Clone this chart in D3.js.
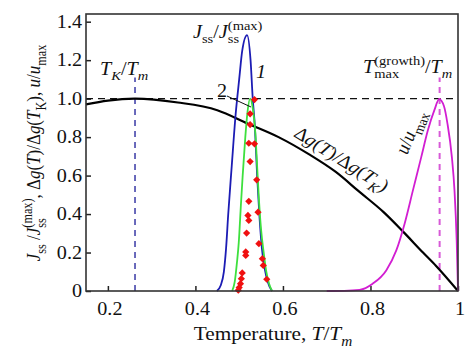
<!DOCTYPE html>
<html>
<head>
<meta charset="utf-8">
<script src="https://cdn.jsdelivr.net/npm/d3@7"></script>
<style>
  body { margin: 0; background: #fff; }
</style>
</head>
<body>
<div id="chart"></div>
<script>
// values (x = T/Tm)
const xTicks = [0.2, 0.4, 0.6, 0.8, 1];
const xTickLabels = ["0.2", "0.4", "0.6", "0.8", "1"];
const yTicks = [0, 0.2, 0.4, 0.6, 0.8, 1.0, 1.2, 1.4];
const yTickLabels = ["0", "0.2", "0.4", "0.6", "0.8", "1.0", "1.2", "1.4"];

// driving force  dg(T)/dg(TK)
const dgX = [0.15, 0.2, 0.262, 0.36, 0.45, 0.52, 0.59, 0.66, 0.72, 0.775, 0.83, 0.874, 0.92, 0.95, 1.0];
const dgY = [0.97, 0.99, 1.0, 0.98, 0.94, 0.87, 0.80, 0.71, 0.62, 0.515, 0.41, 0.31, 0.2, 0.13, 0];

// curve 1: Jss / Jss(max)  (blue)
const jX = [0.449, 0.458, 0.465, 0.470, 0.475, 0.483, 0.492, 0.500, 0.507, 0.518, 0.526, 0.531, 0.536, 0.541, 0.546, 0.552, 0.558, 0.565, 0.575];
const jY = [0, 0.03, 0.1, 0.22, 0.40, 0.65, 0.92, 1.1, 1.25, 1.33, 1.2, 1.0, 0.85, 0.6, 0.40, 0.22, 0.12, 0.05, 0];

// curve 2 (green)
const gX = [0.484, 0.490, 0.495, 0.499, 0.504, 0.508, 0.514, 0.519, 0.525, 0.531, 0.537, 0.541, 0.545, 0.550, 0.556, 0.562, 0.568, 0.575];
const gY = [0, 0.05, 0.15, 0.25, 0.45, 0.6, 0.8, 0.93, 1.0, 0.95, 0.82, 0.65, 0.48, 0.32, 0.2, 0.1, 0.04, 0];

// measured points (red)
const ptX = [0.535, 0.525, 0.525, 0.522, 0.535, 0.525, 0.540, 0.522, 0.543, 0.520, 0.522, 0.517, 0.545, 0.515, 0.515, 0.553, 0.555, 0.507, 0.505, 0.563, 0.503, 0.500, 0.498];
const ptY = [0.995, 0.921, 0.865, 0.768, 0.765, 0.673, 0.578, 0.466, 0.41, 0.393, 0.367, 0.301, 0.246, 0.203, 0.185, 0.168, 0.133, 0.094, 0.064, 0.061, 0.038, 0.018, 0.004];

// growth rate u/umax (magenta)
const uX = [0.70, 0.74, 0.775, 0.805, 0.836, 0.859, 0.878, 0.897, 0.916, 0.931, 0.946, 0.957, 0.968, 0.976, 0.986, 0.992, 0.997, 1.0];
const uY = [0, 0.001, 0.006, 0.038, 0.107, 0.211, 0.35, 0.523, 0.696, 0.834, 0.94, 0.997, 0.96, 0.869, 0.696, 0.523, 0.263, 0];

const tK = 0.262, tGrowth = 0.958;

const W = 474, H = 351;
const S = 1.12; // text in the figure is a bit wider than tall
const FONT = "'Liberation Serif', 'Times New Roman', serif";

const svg = d3.select("#chart").append("svg")
  .attr("width", W).attr("height", H);

const x = d3.scaleLinear().domain([0.15, 1.0]).range([86, 458]);
const y = d3.scaleLinear().domain([0, 1.44]).range([291, 14]);

const zip = (a, b) => a.map((v, i) => [v, b[i]]);
const line = d3.line().x(d => x(d[0])).y(d => y(d[1])).curve(d3.curveMonotoneX);

// rich text with sub/superscripts
function rich(parent, tr, parts, size, anchor) {
  const g = parent.append("g").attr("transform", tr);
  const t = g.append("text")
    .attr("font-family", FONT)
    .attr("fill", "#111")
    .attr("font-size", size)
    .attr("text-anchor", anchor || "start");
  let cur = 0, lastLen = 0;
  parts.forEach(p => {
    const off = p.sub ? size * 0.3 : p.sup ? -size * 0.42 : 0;
    const ts = t.append("tspan").text(p.t)
      .attr("dy", off - cur)
      .attr("font-style", p.i ? "italic" : "normal")
      .attr("font-size", (p.sub || p.sup) ? size * 0.72 : size);
    if (p.back) ts.attr("dx", -lastLen);
    cur = off;
    lastLen = ts.node().getComputedTextLength();
  });
  return t;
}

// ---- axes ----
const axisG = svg.append("g");
axisG.append("g")
  .attr("transform", "translate(0,291)")
  .call(d3.axisBottom(x).tickValues(xTicks).tickSize(-5).tickFormat(""))
  .call(g => g.select(".domain").remove());
axisG.append("g")
  .attr("transform", "translate(86,0)")
  .call(d3.axisLeft(y).tickValues(yTicks).tickSize(-5).tickFormat(""))
  .call(g => g.select(".domain").remove());
axisG.selectAll(".tick line").attr("stroke", "#222").attr("stroke-width", 1.5);

xTicks.forEach((v, i) => {
  rich(svg, `translate(${x(v) + 2},315) scale(${S},1)`, [{ t: xTickLabels[i] }], 18, "middle");
});
yTicks.forEach((v, i) => {
  rich(svg, `translate(82,${y(v) + 6}) scale(${S},1)`, [{ t: yTickLabels[i] }], 18, "end");
});

// ---- reference lines ----
svg.append("line")
  .attr("x1", x(0.15)).attr("x2", x(1.0)).attr("y1", y(1)).attr("y2", y(1))
  .attr("stroke", "#111").attr("stroke-width", 1.3).attr("stroke-dasharray", "7,5");
svg.append("line")
  .attr("x1", x(tK)).attr("x2", x(tK)).attr("y1", y(0)).attr("y2", y(1.11))
  .attr("stroke", "#5a5ab4").attr("stroke-width", 1.8).attr("stroke-dasharray", "6,5");
svg.append("line")
  .attr("x1", x(tGrowth)).attr("x2", x(tGrowth)).attr("y1", y(0)).attr("y2", y(1.11))
  .attr("stroke", "#d75ad7").attr("stroke-width", 2).attr("stroke-dasharray", "6,5");

// ---- curves ----
svg.append("path").datum(zip(dgX, dgY)).attr("d", line)
  .attr("fill", "none").attr("stroke", "#000").attr("stroke-width", 2.2);
svg.append("path").datum(zip(uX, uY)).attr("d", line)
  .attr("fill", "none").attr("stroke", "#d21ed2").attr("stroke-width", 1.8);
svg.append("path").datum(zip(jX, jY)).attr("d", line)
  .attr("fill", "none").attr("stroke", "#1c1cb4").attr("stroke-width", 1.8);
svg.append("path").datum(zip(gX, gY)).attr("d", line)
  .attr("fill", "none").attr("stroke", "#3ee03e").attr("stroke-width", 1.8);

const diamond = d3.symbol(d3.symbolSquare, 26);
svg.append("g").selectAll("path")
  .data(zip(ptX, ptY)).join("path")
  .attr("d", diamond)
  .attr("transform", d => `translate(${x(d[0])},${y(d[1])}) rotate(45)`)
  .attr("fill", "#f01010");

// frame
svg.append("rect")
  .attr("x", 86).attr("y", 14).attr("width", 372).attr("height", 277)
  .attr("fill", "none").attr("stroke", "#333").attr("stroke-width", 1.6);

// ---- annotations ----
rich(svg, `translate(100,75) scale(${S},1)`,
  [{ t: "T", i: 1 }, { t: "K", i: 1, sub: 1 }, { t: "/" }, { t: "T", i: 1 }, { t: "m", i: 1, sub: 1 }], 18);

rich(svg, `translate(193,38) scale(${S},1)`,
  [{ t: "J", i: 1 }, { t: "ss", sub: 1 }, { t: "/" }, { t: "J", i: 1 }, { t: "ss", sub: 1 }, { t: "(max)", sup: 1, back: 1 }], 18);

rich(svg, `translate(256,78) scale(${S},1)`, [{ t: "1", i: 1 }], 18);
rich(svg, `translate(217,97) scale(${S},1)`, [{ t: "2" }], 18);
svg.append("line")
  .attr("x1", 227).attr("y1", 96).attr("x2", 251).attr("y2", 107)
  .attr("stroke", "#111").attr("stroke-width", 1);

rich(svg, `translate(363,73) scale(${S},1)`,
  [{ t: "T", i: 1 }, { t: "max", sub: 1 }, { t: "(growth)", sup: 1, back: 1 }, { t: "/" }, { t: "T", i: 1 }, { t: "m", i: 1, sub: 1 }], 18);

rich(svg, `translate(338,164) scale(${S},1) rotate(35)`,
  [{ t: "Δ" }, { t: "g", i: 1 }, { t: "(" }, { t: "T", i: 1 }, { t: ")/Δ" }, { t: "g", i: 1 }, { t: "(" }, { t: "T", i: 1 }, { t: "K", i: 1, sub: 1 }, { t: ")" }], 18, "middle");

rich(svg, `translate(416,134) scale(${S},1) rotate(-70)`,
  [{ t: "u", i: 1 }, { t: "/" }, { t: "u", i: 1 }, { t: "max", sub: 1 }], 18, "middle");

// axis titles
rich(svg, `translate(273,340) scale(${S},1)`,
  [{ t: "Temperature, " }, { t: "T", i: 1 }, { t: "/" }, { t: "T", i: 1 }, { t: "m", i: 1, sub: 1 }], 19, "middle");

rich(svg, `translate(40,153) scale(${S},1) rotate(-90)`,
  [{ t: "J", i: 1 }, { t: "ss", sub: 1 }, { t: " /" }, { t: "J", i: 1 }, { t: "ss", sub: 1 }, { t: "(max)", sup: 1, back: 1 },
   { t: ", Δ" }, { t: "g", i: 1 }, { t: "(" }, { t: "T", i: 1 }, { t: ")/Δ" }, { t: "g", i: 1 }, { t: "(" }, { t: "T", i: 1 }, { t: "K", sub: 1 }, { t: "), " },
   { t: "u", i: 1 }, { t: "/" }, { t: "u", i: 1 }, { t: "max", sub: 1 }], 17, "middle");
</script>
</body>
</html>
